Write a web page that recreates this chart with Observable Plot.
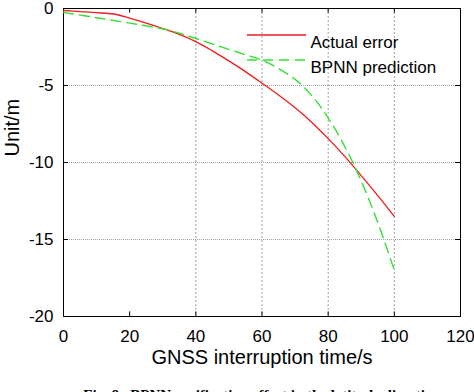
<!DOCTYPE html>
<html><head><meta charset="utf-8">
<script src="https://cdn.jsdelivr.net/npm/d3@7"></script>
<script src="https://cdn.jsdelivr.net/npm/@observablehq/plot@0.6"></script>
<style>
html,body{margin:0;padding:0;background:#fff;overflow:hidden;}
#chart{position:relative;width:474px;height:392px;}
</style></head>
<body><div id="chart"></div>
<script>
const actualX = [0,5,10,16,20,25,30,35,40,45,50,55,60,65,70,75,80,85,90,95,100];
const actualY = [-0.13,-0.2,-0.27,-0.39,-0.63,-0.95,-1.3,-1.68,-2.15,-2.75,-3.4,-4.1,-4.85,-5.62,-6.45,-7.38,-8.45,-9.6,-10.85,-12.15,-13.5];
const bpnnX = [0,10,20,30,35,40,45,50,55,60,65,70,75,80,85,90,95,100];
const bpnnY = [-0.25,-0.6,-0.95,-1.32,-1.6,-1.95,-2.3,-2.65,-3.0,-3.35,-3.9,-4.6,-5.65,-7.1,-8.95,-11.2,-13.9,-17.0];
const xTicks = [0,20,40,60,80,100,120];
const yTicks = [0,-5,-10,-15,-20];
const xGrid = [40,60,80,100];
const yGrid = [-5,-10,-15];
const seriesNames = ["Actual error","BPNN prediction"];
const xLabel = "GNSS interruption time/s";
const yLabel = "Unit/m";
const caption = "Fig. 8   BPNN verification effect in the latitude direction";

const actual = actualX.map((x,i)=>({x, y: actualY[i]}));
const bpnn = bpnnX.map((x,i)=>({x, y: bpnnY[i]}));
const RED = "#ee1c1c", GREEN = "#33e033";
const font = "'Liberation Sans', Arial, sans-serif";

const plot = Plot.plot({
  width: 474, height: 392,
  marginLeft: 63, marginRight: 14, marginTop: 8, marginBottom: 76,
  style: {fontFamily: font, background: "#fff", overflow: "visible"},
  x: {domain: [0,120], label: null},
  y: {domain: [-20,0], label: null},
  marks: [
    Plot.gridX(xGrid, {stroke: "#888", strokeOpacity: 1, strokeDasharray: "2,2", strokeWidth: 0.8}),
    Plot.gridY(yGrid, {stroke: "#888", strokeOpacity: 1, strokeDasharray: "1,1", strokeWidth: 0.8}),
    Plot.ruleX(xTicks, {y1: -20, y2: -19.7, stroke: "#000"}),
    Plot.ruleX(xTicks, {y1: 0, y2: -0.3, stroke: "#000"}),
    Plot.ruleY(yTicks, {x1: 0, x2: 1.5, stroke: "#000"}),
    Plot.ruleY(yTicks, {x1: 118.5, x2: 120, stroke: "#000"}),
    Plot.frame({stroke: "#000", strokeWidth: 1}),
    Plot.line(actual, {x: "x", y: "y", stroke: RED, strokeWidth: 1.3, curve: "catmull-rom"}),
    Plot.line(bpnn, {x: "x", y: "y", stroke: GREEN, strokeWidth: 1.4, strokeDasharray: "10,6", curve: "catmull-rom"}),
    Plot.axisX({ticks: xTicks, tickSize: 0, tickPadding: 13, fontSize: 17, label: null, tickFormat: d => String(d)}),
    Plot.axisY({ticks: yTicks, tickSize: 0, tickPadding: 10, fontSize: 17, label: null, tickFormat: d => String(d)}),
    Plot.text([xLabel], {text: d => d, frameAnchor: "bottom", dy: 47, fontSize: 20, fill: "#000"}),
    Plot.text([yLabel], {text: d => d, frameAnchor: "left", rotate: -90, dx: -51, dy: -6, fontSize: 20, fill: "#000"}),
    Plot.text([seriesNames[0]], {text: d => d, frameAnchor: "top-left", dx: 247, dy: 27, textAnchor: "start", fontSize: 17, fill: "#000"}),
    Plot.text([seriesNames[1]], {text: d => d, frameAnchor: "top-left", dx: 247, dy: 52, textAnchor: "start", fontSize: 17, fill: "#000"}),
    Plot.text([caption], {text: d => d, frameAnchor: "bottom", dy: 83, fontSize: 15, fontFamily: "'Liberation Serif', 'Times New Roman', serif", fontWeight: "bold", fill: "#000", lineAnchor: "bottom"})
  ]
});
const svg = d3.select(plot);
const g = svg.append("g");
g.append("line").attr("x1",247).attr("x2",306).attr("y1",35).attr("y2",35).attr("stroke",RED).attr("stroke-width",1.3);
g.append("line").attr("x1",247).attr("x2",306).attr("y1",60).attr("y2",60).attr("stroke",GREEN).attr("stroke-width",1.4).attr("stroke-dasharray","10,6");
document.getElementById("chart").appendChild(plot);
</script></body></html>
